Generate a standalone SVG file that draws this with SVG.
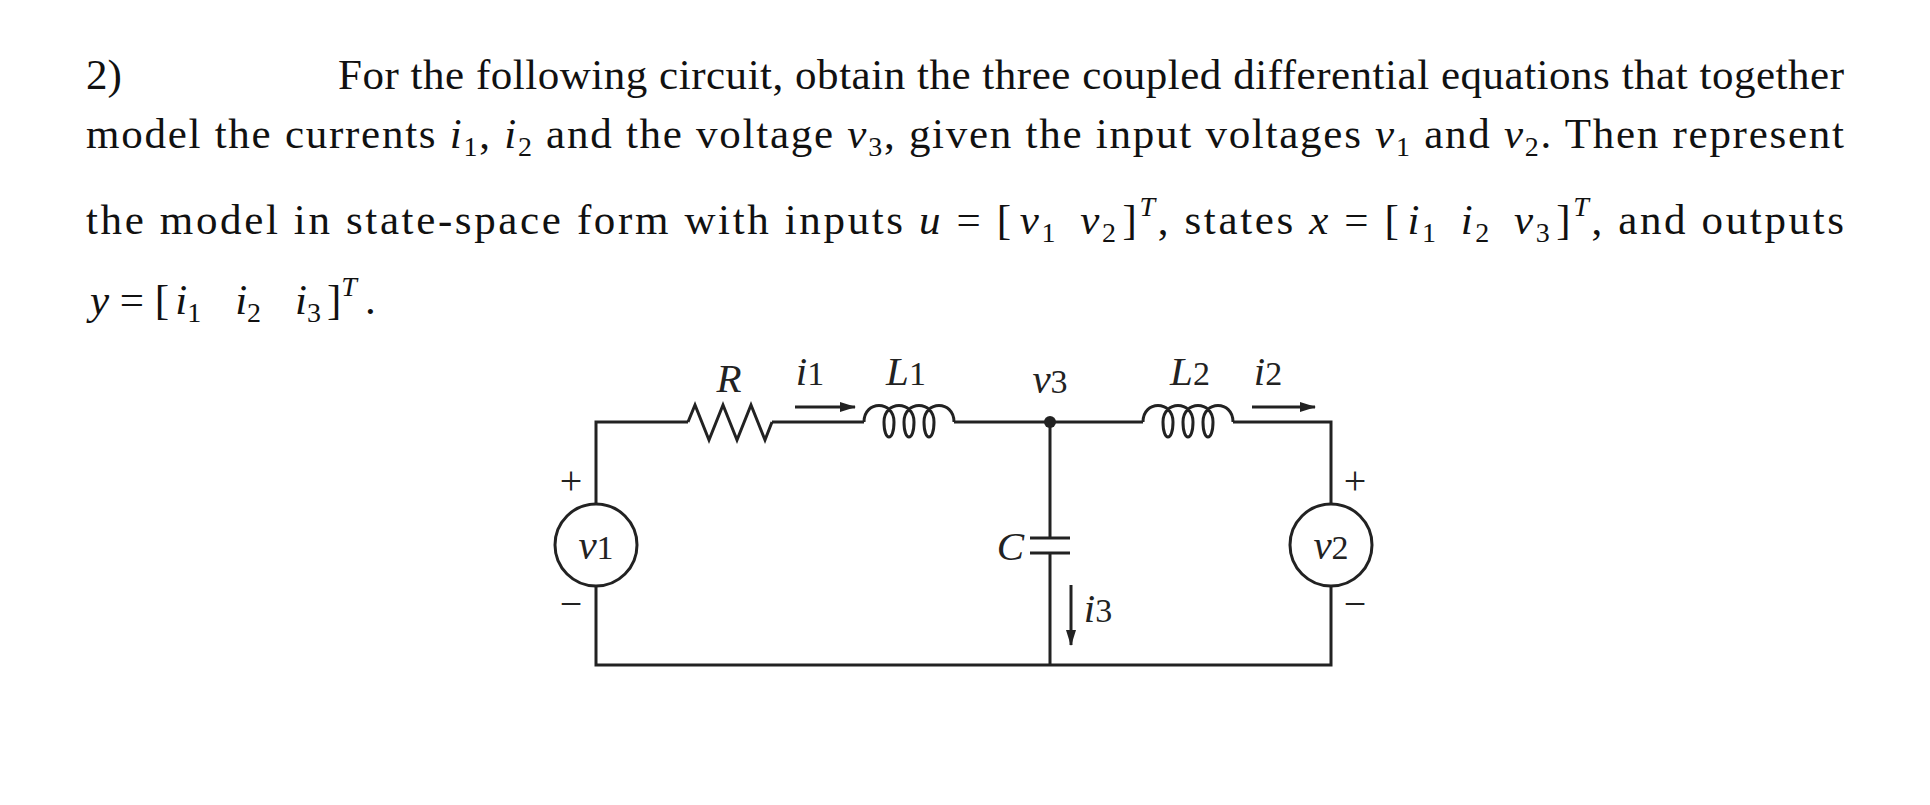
<svg xmlns="http://www.w3.org/2000/svg" width="1930" height="805" viewBox="0 0 1930 805">
<style>
.t{font-family:"Liberation Serif",serif;font-size:43px;fill:#111}
.m{font-style:italic}
.s{font-size:28px}
.c{font-family:"Liberation Serif",serif;font-size:41px;font-style:italic;fill:#222}
.cs{font-style:normal;font-size:34px}
.w{fill:none;stroke:#222;stroke-width:3}
</style>
<defs>
<marker id="ar" markerWidth="16" markerHeight="10" refX="15" refY="5" orient="auto" markerUnits="userSpaceOnUse" viewBox="0 0 16 10"><path d="M0,0 L16,5 L0,10 z" fill="#222"/></marker>
</defs>
<rect width="1930" height="805" fill="#fff"/>
<g id="problem-text">
<text class="t" x="86" y="89">2)</text>
<text class="t" x="338" y="89" textLength="1506" lengthAdjust="spacing">For the following circuit, obtain the three coupled differential equations that together</text>
<text class="t" x="86" y="148" textLength="1758" lengthAdjust="spacing">model the currents <tspan class="m">i</tspan><tspan class="s" dy="8">1</tspan><tspan dy="-8">, </tspan><tspan class="m">i</tspan><tspan class="s" dy="8">2</tspan><tspan dy="-8"> and the voltage </tspan><tspan class="m">v</tspan><tspan class="s" dy="8">3</tspan><tspan dy="-8">, given the input voltages </tspan><tspan class="m">v</tspan><tspan class="s" dy="8">1</tspan><tspan dy="-8"> and </tspan><tspan class="m">v</tspan><tspan class="s" dy="8">2</tspan><tspan dy="-8">. Then represent</tspan></text>
<text class="t" x="86" y="234" textLength="1758" lengthAdjust="spacing">the model in state-space form with inputs <tspan class="m">u</tspan> = [<tspan class="m" dx="6">v</tspan><tspan class="s" dy="8">1</tspan><tspan class="m" dy="-8" dx="22">v</tspan><tspan class="s" dy="8">2</tspan><tspan dy="-8" dx="4">]</tspan><tspan class="s m" dy="-18">T</tspan><tspan dy="18">, states </tspan><tspan class="m">x</tspan> = [<tspan class="m" dx="6">i</tspan><tspan class="s" dy="8">1</tspan><tspan class="m" dy="-8" dx="22">i</tspan><tspan class="s" dy="8">2</tspan><tspan class="m" dy="-8" dx="22">v</tspan><tspan class="s" dy="8">3</tspan><tspan dy="-8" dx="4">]</tspan><tspan class="s m" dy="-18">T</tspan><tspan dy="18">, and outputs</tspan></text>
<text class="t" x="90" y="314"><tspan class="m">y</tspan> = [<tspan class="m" dx="6">i</tspan><tspan class="s" dy="8">1</tspan><tspan class="m" dy="-8" dx="34">i</tspan><tspan class="s" dy="8">2</tspan><tspan class="m" dy="-8" dx="34">i</tspan><tspan class="s" dy="8">3</tspan><tspan dy="-8" dx="6">]</tspan><tspan class="s m" dy="-18">T</tspan><tspan dy="18" dx="8">.</tspan></text>
</g>
<g id="connectors">
<path class="w" d="M596,504 V422 H688 M772,422 H864 M954,422 H1143 M1233,422 H1331 V504 M596,586 V665 H1331 V586 M1050,422 V538 M1050,553 V665"/>
</g>
<g id="R">
<path class="w" d="M688,422 L695,405 L709,440 L723,405 L737,440 L751,405 L765,440 L772,422"/>
<text class="c" x="729" y="392" text-anchor="middle">R</text>
</g>
<g id="i1">
<line class="w" x1="795" y1="407" x2="855" y2="407" marker-end="url(#ar)"/>
<text class="c" x="810" y="385" text-anchor="middle">i<tspan class="cs">1</tspan></text>
</g>
<g id="L1">
<path class="w" d="M864,422 C864,400 894,400 894,422 C894,442 884,442 884,422 C884,400 914,400 914,422 C914,442 904,442 904,422 C904,400 934,400 934,422 C934,442 924,442 924,422 C924,400 954,400 954,422"/>
<text class="c" x="906" y="385" text-anchor="middle">L<tspan class="cs">1</tspan></text>
</g>
<g id="v3">
<circle cx="1050" cy="422" r="6" fill="#222"/>
<text class="c" x="1050" y="393" text-anchor="middle">v<tspan class="cs">3</tspan></text>
</g>
<g id="L2">
<path class="w" d="M1143,422 C1143,400 1173,400 1173,422 C1173,442 1163,442 1163,422 C1163,400 1193,400 1193,422 C1193,442 1183,442 1183,422 C1183,400 1213,400 1213,422 C1213,442 1203,442 1203,422 C1203,400 1233,400 1233,422"/>
<text class="c" x="1190" y="385" text-anchor="middle">L<tspan class="cs">2</tspan></text>
</g>
<g id="i2">
<line class="w" x1="1252" y1="407" x2="1315" y2="407" marker-end="url(#ar)"/>
<text class="c" x="1268" y="385" text-anchor="middle">i<tspan class="cs">2</tspan></text>
</g>
<g id="C">
<line class="w" x1="1030" y1="538" x2="1070" y2="538"/>
<line class="w" x1="1030" y1="553" x2="1070" y2="553"/>
<text class="c" x="1024" y="560" text-anchor="end">C</text>
</g>
<g id="i3">
<line class="w" x1="1071" y1="585" x2="1071" y2="645" marker-end="url(#ar)"/>
<text class="c" x="1098" y="622" text-anchor="middle">i<tspan class="cs">3</tspan></text>
</g>
<g id="v1">
<circle class="w" cx="596" cy="545" r="41"/>
<text class="c" x="596" y="559" text-anchor="middle">v<tspan class="cs">1</tspan></text>
<text class="c cs" x="571" y="494" text-anchor="middle" style="font-size:40px">+</text>
<text class="c cs" x="571" y="617" text-anchor="middle" style="font-size:40px">−</text>
</g>
<g id="v2">
<circle class="w" cx="1331" cy="545" r="41"/>
<text class="c" x="1331" y="559" text-anchor="middle">v<tspan class="cs">2</tspan></text>
<text class="c cs" x="1355" y="494" text-anchor="middle" style="font-size:40px">+</text>
<text class="c cs" x="1355" y="617" text-anchor="middle" style="font-size:40px">−</text>
</g>
</svg>
